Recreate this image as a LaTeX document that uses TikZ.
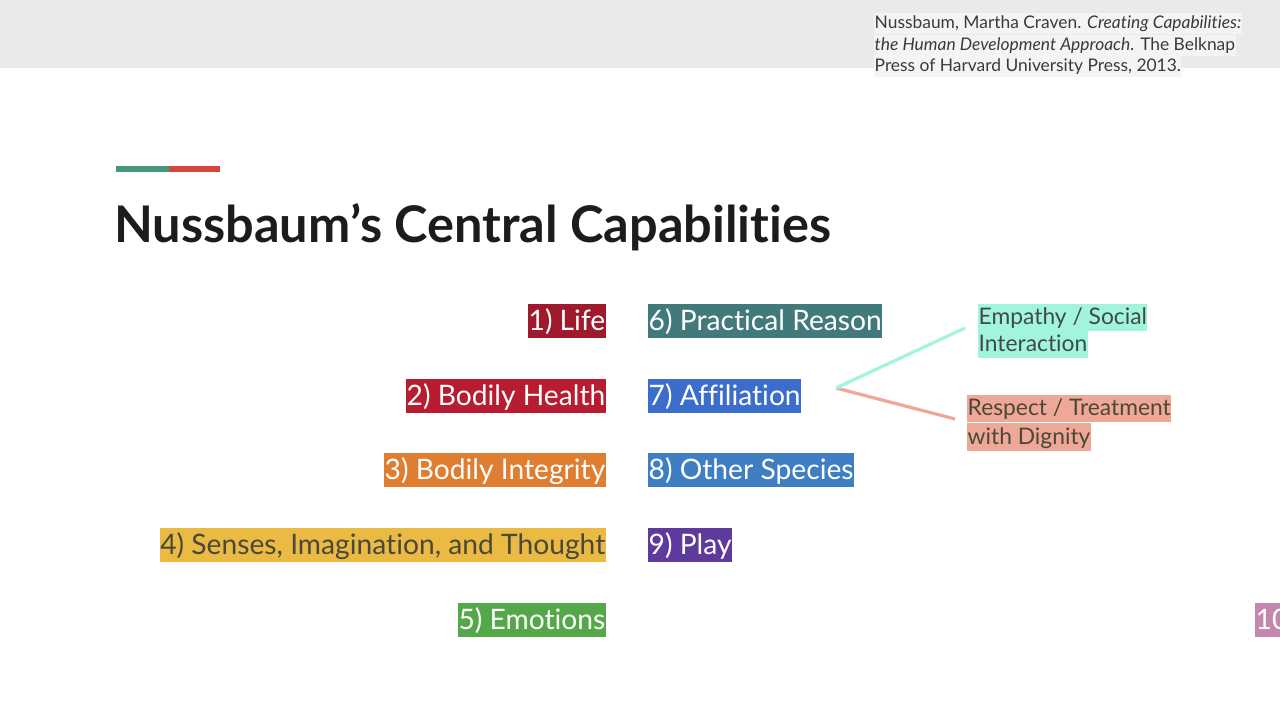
\documentclass[tikz,border=0pt]{standalone}
\usepackage{fontspec}
\setmainfont{Lato}[Ligatures={NoCommon}]
\definecolor{band}{HTML}{E8EAEC}
\definecolor{citebg}{HTML}{F3F4F5}
\definecolor{citetx}{HTML}{3A3A3A}
\definecolor{titletx}{HTML}{1C1C1C}
\definecolor{accgreen}{HTML}{43977A}
\definecolor{accred}{HTML}{D4453A}
\definecolor{cLife}{HTML}{9E1A2C}
\definecolor{cHealth}{HTML}{B81C30}
\definecolor{cInteg}{HTML}{DF7D30}
\definecolor{cSenses}{HTML}{EBBA42}
\definecolor{cEmo}{HTML}{55A849}
\definecolor{cPract}{HTML}{427A7C}
\definecolor{cAffil}{HTML}{3B6DCC}
\definecolor{cSpecies}{HTML}{3F7EC2}
\definecolor{cPlay}{HTML}{5D3A9C}
\definecolor{cTen}{HTML}{C488B0}
\definecolor{cEmp}{HTML}{A0F5DC}
\definecolor{cResp}{HTML}{EFA897}
\definecolor{darktx}{HTML}{4A4838}
\definecolor{subtx}{HTML}{424A46}
\begin{document}
\begin{tikzpicture}[x=1pt,y=-1pt,
  capbox/.style={font=\fontsize{28.2}{28.2}\selectfont, text=white, inner xsep=0.5pt, inner ysep=0pt,
     minimum height=34pt, text height=23pt, text depth=5pt},
  subl/.style={font=\fontsize{22.8}{22.8}\selectfont, inner xsep=0.5pt, inner ysep=0pt,
     minimum height=27.5pt, text height=19pt, text depth=5pt, anchor=west},
  citeline/.style={font=\fontsize{17.4}{17.4}\selectfont, text=citetx, fill=citebg, inner xsep=0.5pt,
     inner ysep=0pt, minimum height=21pt, text height=14pt, text depth=4pt, anchor=west},
  link/.style={line width=3.2pt}]
\useasboundingbox (0,0) rectangle (1280,720);
\fill[white] (0,0) rectangle (1280,720);
\fill[band] (0,0) rectangle (1280,68);
% citation
\node[citeline] (cite1) at (874,23) {Nussbaum, Martha Craven. \textit{Creating Capabilities:}};
\node[citeline] (cite2) at (874,45) {\textit{the Human Development Approach}. The Belknap};
\node[citeline] (cite3) at (874,66) {Press of Harvard University Press, 2013.};
% accent bar
\fill[accgreen] (116,166) rectangle (169,172);
\fill[accred] (169,166) rectangle (220,172);
% title
\node[anchor=base west, inner sep=0pt, text=titletx, font=\fontsize{50.5}{50.5}\selectfont\bfseries] (title) at (114,242) {Nussbaum’s Central Capabilities};
% left column
\node[capbox, fill=cLife, anchor=east] (c1) at (606,321) {1) Life};
\node[capbox, fill=cHealth, anchor=east] (c2) at (606,396) {2) Bodily Health};
\node[capbox, fill=cInteg, anchor=east] (c3) at (606,470) {3) Bodily Integrity};
\node[capbox, fill=cSenses, text=darktx, anchor=east] (c4) at (606,545) {4) Senses, Imagination, and Thought};
\node[capbox, fill=cEmo, anchor=east] (c5) at (606,620) {5) Emotions};
% right column
\node[capbox, fill=cPract, anchor=west] (c6) at (648,321) {6) Practical Reason};
\node[capbox, fill=cAffil, anchor=west] (c7) at (648,396) {7) Affiliation};
\node[capbox, fill=cSpecies, anchor=west] (c8) at (648,470) {8) Other Species};
\node[capbox, fill=cPlay, anchor=west] (c9) at (648,545) {9) Play};
\node[capbox, fill=cTen, anchor=west] (c10) at (1255,620) {10};
% sub-capabilities
\node[subl, fill=cEmp, text=subtx] (emp1) at (978,317.5) {Empathy / Social};
\node[subl, fill=cEmp, text=subtx] (emp2) at (978,344.5) {Interaction};
\node[subl, fill=cResp, text=darktx] (resp1) at (967,408.5) {Respect / Treatment};
\node[subl, fill=cResp, text=darktx] (resp2) at (967,437) {with Dignity};
% connectors
\coordinate (hub) at (836,388);
\coordinate (empend) at (965,328);
\coordinate (respend) at (955,419);
\draw[link, cResp] (hub) -- (respend);
\draw[link, cEmp] (hub) -- (empend);
\end{tikzpicture}
\end{document}
